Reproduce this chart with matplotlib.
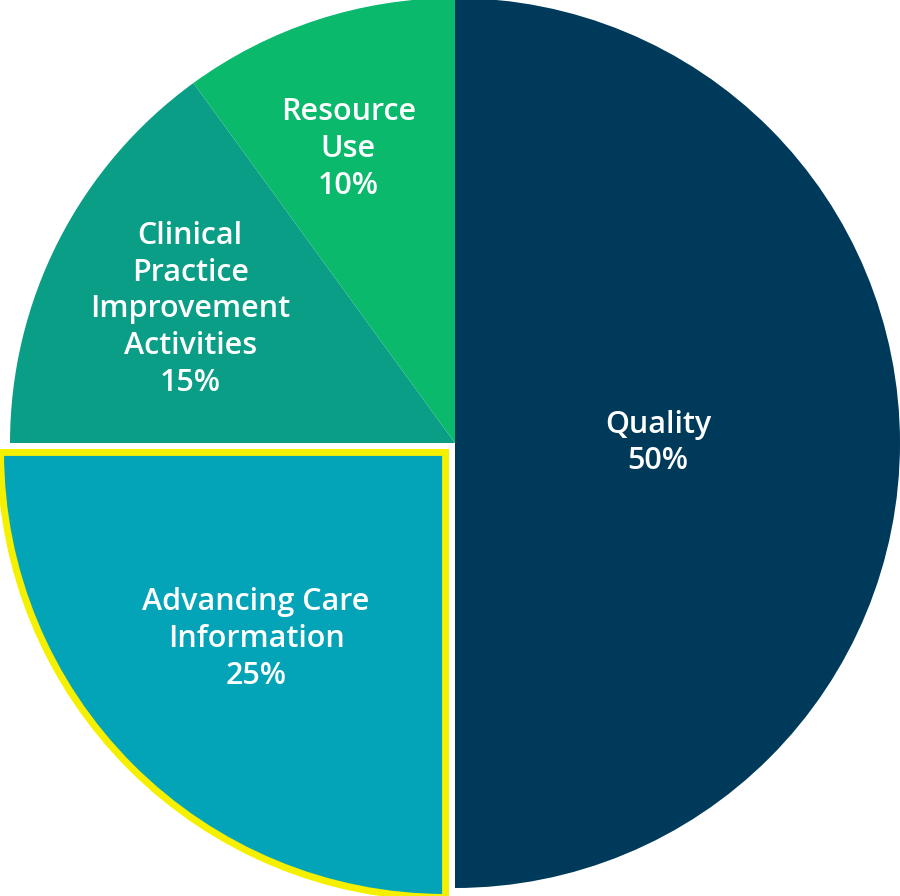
import matplotlib
matplotlib.use("Agg")
import matplotlib.pyplot as plt

labels = ["Quality", "Advancing Care\nInformation", "Clinical\nPractice\nImprovement\nActivities", "Resource\nUse"]
shares = [50, 25, 15, 10]
colors = ["#003a5b", "#04a4b8", "#0a9e86", "#0ab96b"]
explode = [0, 0.03, 0, 0]
# label centres in axis units (radius = 1)
label_pos = [(0.456, 0.0), (-0.447, -0.44), (-0.595, 0.30), (-0.24, 0.66)]

fig = plt.figure(figsize=(9, 8.96), dpi=100)
ax = fig.add_axes([0, 0, 1, 1])
wedges, _ = ax.pie(shares, colors=colors, startangle=90, counterclock=False,
                   explode=explode, radius=1.0,
                   wedgeprops=dict(linewidth=0))
wedges[1].set_edgecolor("#f5f000")
wedges[1].set_linewidth(5)
wedges[1].set_zorder(3)

for lab, s, (x, y) in zip(labels, shares, label_pos):
    ax.text(x, y, f"{lab}\n{s}%", ha="center", va="center", color="white",
            fontsize=22, fontweight="semibold", family=["Open Sans", "DejaVu Sans"],
            linespacing=1.3, zorder=4)

ax.set_xlim(-455 / 445, 445 / 445)
ax.set_ylim(-(896 - 443) / 445, 443 / 445)
ax.set_aspect("auto")
ax.axis("off")
fig.savefig("out.png", dpi=100, transparent=True)
